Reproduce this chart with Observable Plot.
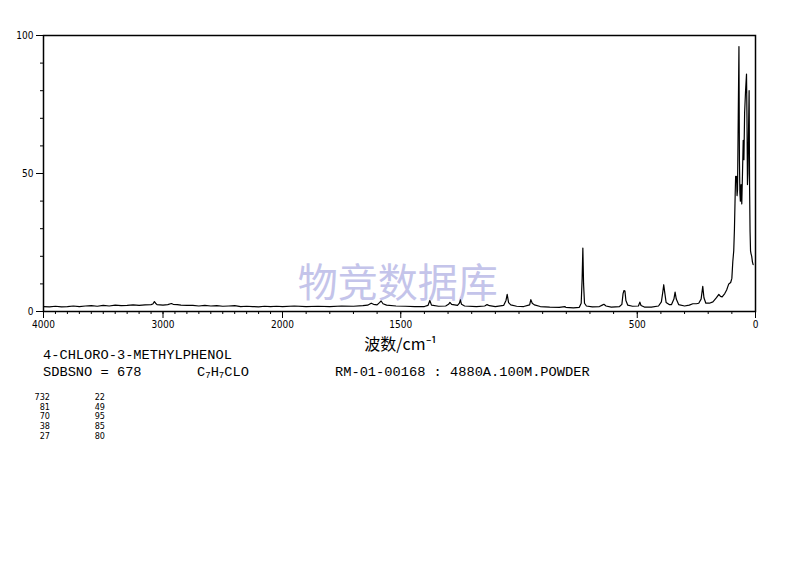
<!DOCTYPE html>
<html><head><meta charset="utf-8">
<script src="https://cdn.jsdelivr.net/npm/d3@7"></script>
<script src="https://cdn.jsdelivr.net/npm/@observablehq/plot@0.6"></script>
<style>
body{margin:0;background:#fff;width:794px;height:567px;position:relative;overflow:hidden}
#chart{position:absolute;left:0;top:0}
.t{position:absolute;font-family:'Liberation Mono','DejaVu Sans Mono',monospace;font-size:13.7px;line-height:14px;color:#000;white-space:pre}
.t sub{font-size:9px;vertical-align:-2px;line-height:0}
.pk{position:absolute;font-family:'Liberation Sans Narrow','DejaVu Sans Condensed',sans-serif;font-size:9px;line-height:9.7px;color:#000;text-align:right}
</style></head><body>
<div id="chart"></div>
<div class="t" style="left:43px;top:349px">4-CHLORO-3-METHYLPHENOL</div>
<div class="t" style="left:43px;top:366px">SDBSNO = 678</div>
<div class="t" style="left:197px;top:366px">C<sub>7</sub>H<sub>7</sub>CLO</div>
<div class="t" style="left:335px;top:366px">RM-01-00168 : 4880A.100M.POWDER</div>
<div id="peaks"></div>
<script>
// ---- data ----
const wavenumbers = [4000,3950,3900,3850,3800,3750,3700,3650,3600,3550,3500,3450,3400,3350,3300,3250,3200,3150,3100,3085,3072,3062,3050,3000,2960,2930,2915,2880,2850,2800,2750,2700,2650,2600,2550,2500,2450,2400,2350,2300,2250,2200,2150,2100,2050,2000,
1950,1900,1850,1800,1750,1700,1660,1640,1625,1615,1600,1590,1583,1575,1560,1520,1480,1440,1400,1385,1377,1370,1340,1310,1298,1292,1285,1260,1252,1248,1243,1230,1180,1145,1135,1125,1100,1065,1055,1050,1044,1035,1010,980,955,950,944,935,910,870,830,806,802,770,745,737,733,730,727,723,715,690,660,648,641,632,610,575,565,560,556,552,548,540,520,495,489,484,470,440,410,398,392,388,384,378,365,355,345,340,335,325,300,280,265,250,240,230,223,218,210,195,180,165,155,148,141,130,122,113,105,100,96,92,89,86,84,82,80,78,76,73,70,68,66,64,61,58,55,52,49,46,42,38,36,34,32,30,27,25,23,21,19,16,13,10];
const intensities = [1.8,1.7,1.9,1.7,1.8,2.0,1.8,2.0,2.1,1.9,2.2,2.0,2.3,2.1,2.2,2.4,2.2,2.4,2.5,2.7,3.6,3.0,2.5,2.3,2.5,2.9,2.6,2.5,2.3,2.2,2.2,2.0,2.2,2.0,2.1,1.9,2.0,2.1,1.8,1.9,1.8,1.7,1.9,1.8,1.9,1.8,
2.0,1.8,1.9,1.8,2.0,1.9,2.1,2.3,3.0,2.6,2.4,3.2,3.8,2.8,2.3,2.0,1.9,1.8,1.8,2.2,4.0,2.3,1.9,2.0,2.6,3.3,2.6,2.2,3.0,4.2,2.6,2.0,1.8,2.0,2.5,2.1,1.8,2.2,4.0,6.2,3.2,2.4,1.9,1.8,2.4,4.3,3.0,2.4,1.8,1.6,1.5,1.8,1.5,1.3,1.5,3.0,12,23,10,3.0,2.0,1.7,1.8,2.3,2.6,2.0,1.6,1.8,2.6,6.5,7.6,7.4,4.0,2.3,1.9,2.0,3.4,2.2,1.6,1.6,2.0,3.5,7.0,9.7,7.0,3.3,2.5,2.5,4.5,7.0,4.5,2.5,2.0,2.3,2.8,2.8,3.0,4.5,9.1,5.0,3.0,3.0,3.5,5.0,6.2,5.5,5.3,6.5,7.8,10,10.5,12,18,22,30,42,49,47,49,42,44,70,96,55,43,40,46,39,50,62,55,72,80,86,70,46,50,62,80,45,29,22,21,20,18,17];
const xMajorTicks = [4000,3000,2000,1500,500,0];
const xMinorTicks = d3.range(0, 4001, 100);
const yMajorTicks = [0,50,100];
const yMinorTicks = d3.range(0, 101, 10);
const peakWn = [732,81,70,38,27];
const peakInt = [22,49,95,85,80];

const spectrum = wavenumbers.map((w,i)=>({w, v: intensities[i]}));
const narrow = "'Liberation Sans Narrow','DejaVu Sans Condensed',sans-serif";
const chart = Plot.plot({
  width: 794, height: 356,
  marginLeft: 43, marginRight: 39, marginTop: 35, marginBottom: 45,
  style: {fontFamily: narrow, fontSize: "10px", background: "white", overflow: "visible"},
  x: {type: "linear", domain: [4000, 2000, 0], range: [43, 282, 755], label: null},
  y: {domain: [0, 100], range: [311, 35], label: null},
  marks: [
    Plot.text(["物竞数据库"], {text: d=>d, x: () => 1500, y: () => 10, dx: -3, fontSize: 40, fill: "#c4c4ea", fontFamily: "'Noto Sans CJK SC',sans-serif"}),
    Plot.line(spectrum, {x: "w", y: "v", stroke: "black", strokeWidth: 1.2}),
    Plot.axisX({ticks: xMinorTicks, tickSize: 3, tickFormat: () => "", label: null}),
    Plot.axisX({ticks: xMajorTicks, tickSize: 7, tickPadding: 2, tickFormat: d => String(d), label: null}),
    Plot.axisY({ticks: yMinorTicks, tickSize: 3, tickFormat: () => "", label: null}),
    Plot.axisY({ticks: yMajorTicks, tickSize: 7, tickPadding: 3, tickFormat: d => String(d), label: null}),
    Plot.frame({stroke: "black", strokeWidth: 1.5}),
    Plot.text(["波数/cm⁻¹"], {text: d=>d, x: () => 1500, y: () => 0, dy: 33, fontSize: 16, fontFamily: "'Noto Sans CJK SC',sans-serif"})
  ]
});
document.getElementById("chart").appendChild(chart);

const pk = document.getElementById("peaks");
peakWn.forEach((w,i)=>{
  const a = document.createElement("div");
  a.className = "pk";
  a.style.cssText = `left:20px;width:30px;top:${393 + i*9.7}px`;
  a.textContent = w;
  const b = document.createElement("div");
  b.className = "pk";
  b.style.cssText = `left:75px;width:30px;top:${393 + i*9.7}px`;
  b.textContent = peakInt[i];
  pk.appendChild(a); pk.appendChild(b);
});
</script>
</body></html>
